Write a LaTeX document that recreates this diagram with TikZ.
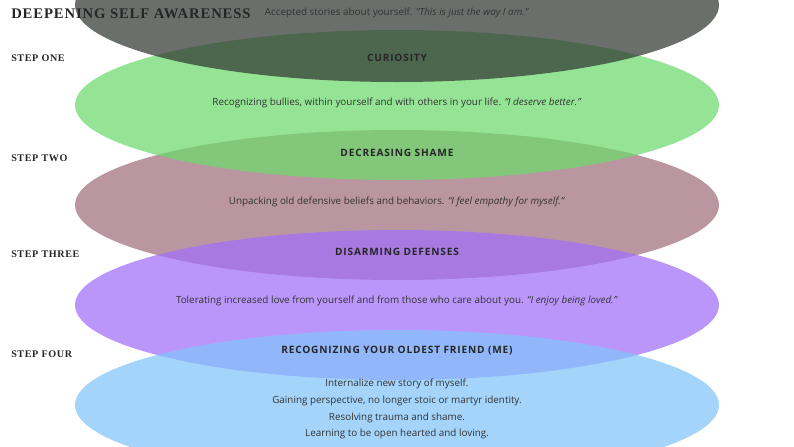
\documentclass[tikz,border=0pt]{standalone}
\usepackage{fontspec}
\setmainfont{Liberation Serif}
\newfontfamily\bodyf{Open Sans}
\newfontfamily\headf[LetterSpace=8]{Open Sans}
\newfontfamily\labf[LetterSpace=6]{Liberation Serif}
\tikzset{
  ell/.style={fill opacity=0.72, draw=none},
  lab/.style={anchor=west, font=\labf\fontsize{7.6}{9}\selectfont\bfseries, text=black!85},
  head/.style={font=\headf\fontsize{7.6}{9}\selectfont\bfseries, text=black!85},
  body/.style={font=\bodyf\fontsize{7.4}{9}\selectfont, text=black!80, align=center},
}
\definecolor{cgray}{RGB}{49,55,51}
\definecolor{cgreen}{RGB}{108,218,108}
\definecolor{cmauve}{RGB}{160,110,125}
\definecolor{cpurple}{RGB}{160,110,250}
\definecolor{cblue}{RGB}{130,195,250}
\begin{document}
\begin{tikzpicture}[x=0.75pt,y=-0.75pt]
\useasboundingbox (0,0) rectangle (794,447);
\begin{scope}
\clip (0,0) rectangle (794,447);
\fill[ell,cmauve] (397,205) ellipse [x radius=322, y radius=75];
\fill[ell,cpurple] (397,305) ellipse [x radius=322, y radius=75];
\fill[ell,cblue] (397,405) ellipse [x radius=322, y radius=75];
\fill[ell,cgreen] (397,105) ellipse [x radius=322, y radius=75];
\fill[ell,cgray] (397,5) ellipse [x radius=322, y radius=77];
\end{scope}
\node[anchor=west, inner sep=0pt, font=\labf\fontsize{11}{12}\selectfont\bfseries, text=black!85] (h) at (11,14) {DEEPENING SELF AWARENESS};
\node[lab, inner sep=0pt] (s1) at (11,58) {STEP ONE};
\node[lab, inner sep=0pt] (s2) at (11,158) {STEP TWO};
\node[lab, inner sep=0pt] (s3) at (11,254) {STEP THREE};
\node[lab, inner sep=0pt] (s4) at (11,354) {STEP FOUR};
\node[body] (t0) at (397,13) {Accepted stories about yourself. \textit{“This is just the way I am.”}};
\node[head] (c1) at (397,58) {CURIOSITY};
\node[body] (t1) at (397,103) {Recognizing bullies, within yourself and with others in your life. \textit{“I deserve better.”}};
\node[head] (c2) at (397,153) {DECREASING SHAME};
\node[body] (t2) at (397,202) {Unpacking old defensive beliefs and behaviors. \textit{“I feel empathy for myself.”}};
\node[head] (c3) at (397,252) {DISARMING DEFENSES};
\node[body] (t3) at (397,301) {Tolerating increased love from yourself and from those who care about you. \textit{“I enjoy being loved.”}};
\node[head] (c4) at (397,351) {RECOGNIZING YOUR OLDEST FRIEND (ME)};
\node[body] (t4a) at (397,384) {Internalize new story of myself.};
\node[body] (t4b) at (397,401) {Gaining perspective, no longer stoic or martyr identity.};
\node[body] (t4c) at (397,418) {Resolving trauma and shame.};
\node[body] (t4d) at (397,434) {Learning to be open hearted and loving.};
\end{tikzpicture}
\end{document}
